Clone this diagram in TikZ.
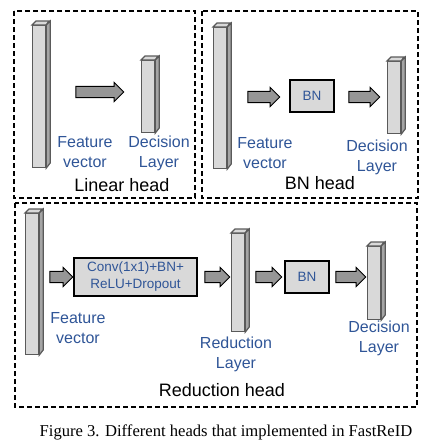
\documentclass[tikz,border=0pt]{standalone}
\usepackage{fontspec}
\setmainfont{Liberation Serif}
\setsansfont{Liberation Sans}
\usepackage{tikz}
\usetikzlibrary{positioning,shapes.arrows}

\definecolor{barfill}{RGB}{217,217,217}
\definecolor{barside}{RGB}{165,165,165}
\definecolor{bardraw}{RGB}{90,90,90}
\definecolor{arrowgray}{RGB}{150,150,150}
\definecolor{labelblue}{RGB}{47,85,151}

% one layer bar: name, top left corner, height
\newcommand{\layerbar}[3]{%
  \node[layer, minimum height=#3pt] (#1) at (#2) {};
  \filldraw[layer, fill=barfill] (#1.north west) -- ++(4,-4) -- ++(13,0) -- (#1.north east) -- cycle;
  \filldraw[layer, fill=barside] (#1.north east) -- ++(4,-4) -- ++(0,#3) -- (#1.south east) -- cycle;
}

\begin{document}
\begin{tikzpicture}[x=1pt,y=-1pt]
  \tikzstyle{layer}=[draw=bardraw,fill=barfill,line width=1.2pt,
                     minimum width=13pt,inner sep=0pt,anchor=north west]
  \tikzstyle{block}=[draw=black,fill=barfill,line width=1.5pt,inner sep=0pt,
                     text=labelblue,font=\sffamily\fontsize{13.5}{17}\selectfont,align=center]
  \tikzstyle{flow}=[single arrow,draw=black,fill=arrowgray,line width=0.9pt,
                    inner xsep=0pt,inner ysep=5.2pt,single arrow head extend=4pt]
  \tikzstyle{frame}=[draw=black,line width=1.2pt,dash pattern=on 5pt off 3pt]
  \tikzstyle{blue label}=[text=labelblue,align=center,
                          font=\sffamily\fontsize{16}{20}\selectfont]
  \tikzstyle{head label}=[font=\sffamily\fontsize{18}{20}\selectfont]

  \useasboundingbox (0,0) rectangle (424,445);

  % Linear head
  \draw[frame] (14,11) rectangle (195,198);
  \layerbar{lfeat}{32,25}{142}
  \layerbar{ldec}{141,60}{72}
  \node[flow,minimum height=48pt] (la) at (97,92) {};
  \node[blue label] (lfeatl) at (85,152) {Feature\\vector};
  \node[blue label] (ldecl) at (159,153) {Decision\\Layer};
  \node[head label] (lhead) at (122,185) {Linear head};

  % BN head
  \draw[frame] (202,11) rectangle (418,198);
  \layerbar{bfeat}{213,27}{141}
  \node[block,minimum width=44pt,minimum height=32pt] (bbn) at (312,96) {BN};
  \layerbar{bdec}{387,61}{72}
  \node[flow,minimum height=32pt] (ba1) at (261,97) {};
  \node[flow,minimum height=31pt] (ba2) at (361.5,97) {};
  \node[blue label] (bfeatl) at (265,153) {Feature\\vector};
  \node[blue label] (bdecl) at (377,157) {Decision\\Layer};
  \node[head label] (bhead) at (320,183) {BN head};

  % Reduction head
  \draw[frame] (15,203) rectangle (417,407);
  \layerbar{rfeat}{25,213}{141}
  \node[block,minimum width=123pt,minimum height=38pt] (rconv) at (135.5,277)
       {Conv(1x1)+BN+\\ReLU+Dropout};
  \layerbar{rred}{231,233}{98}
  \node[block,minimum width=44pt,minimum height=32pt] (rbn) at (307,277) {BN};
  \layerbar{rdec}{367,246}{73}
  \node[flow,minimum height=23pt] (ra1) at (58.5,277) {};
  \node[flow,minimum height=25pt] (ra2) at (214.5,277) {};
  \node[flow,minimum height=26pt] (ra3) at (266,277) {};
  \node[flow,minimum height=30pt] (ra4) at (348,277) {};
  \node[blue label] (rfeatl) at (78,328) {Feature\\vector};
  \node[blue label] (rredl) at (236,354) {Reduction\\Layer};
  \node[blue label] (rdecl) at (379,338) {Decision\\Layer};
  \node[head label] (rhead) at (222,390) {Reduction head};

  \node[font=\fontsize{16.6}{20}\selectfont] (caption) at (226,432)
       {Figure 3. Different heads that implemented in FastReID};
\end{tikzpicture}
\end{document}
